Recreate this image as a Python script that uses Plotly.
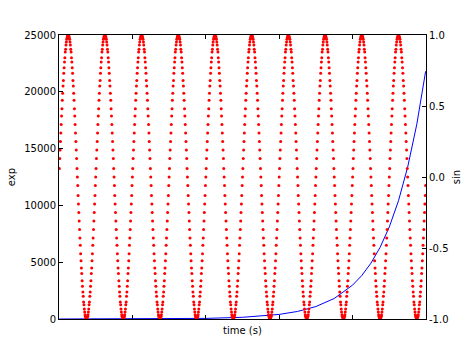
import plotly.graph_objects as go

# ---- data ----
time_start = 0.01
time_step = 0.01

exp_time = [0.01, 1, 2, 3, 4, 5, 5.5, 6, 6.5, 7, 7.5, 8, 8.25, 8.5, 8.75, 9, 9.25, 9.5, 9.75, 9.99]
exp_values = [1.01, 2.72, 7.39, 20.09, 54.6, 148.4, 244.7, 403.4, 665.1, 1096.6, 1808.0, 2981.0,
              3827.6, 4914.8, 6310.7, 8103.1, 10404.6, 13359.7, 17154.2, 21807.2]

sin_values = [
.06,.13,.19,.25,.31,.37,.43,.48,.54,.59,.64,.68,.73,.77,.81,.84,.88,.90,.93,.95,.97,.98,.99,1,1,1,.99,.98,.97,.95,.93,.90,.88,.84,.81,.77,.73,.68,.64,.59,.54,.48,.43,.37,.31,.25,.19,.13,.06,0,-.06,-.13,-.19,-.25,-.31,-.37,-.43,-.48,-.54,-.59,-.64,-.68,-.73,-.77,-.81,-.84,-.88,-.90,-.93,-.95,-.97,-.98,-.99,-1,-1,-1,-.99,-.98,-.97,-.95,-.93,-.90,-.88,-.84,-.81,-.77,-.73,-.68,-.64,-.59,-.54,-.48,-.43,-.37,-.31,-.25,-.19,-.13,-.06,
0,.06,.13,.19,.25,.31,.37,.43,.48,.54,.59,.64,.68,.73,.77,.81,.84,.88,.90,.93,.95,.97,.98,.99,1,1,1,.99,.98,.97,.95,.93,.90,.88,.84,.81,.77,.73,.68,.64,.59,.54,.48,.43,.37,.31,.25,.19,.13,.06,0,-.06,-.13,-.19,-.25,-.31,-.37,-.43,-.48,-.54,-.59,-.64,-.68,-.73,-.77,-.81,-.84,-.88,-.90,-.93,-.95,-.97,-.98,-.99,-1,-1,-1,-.99,-.98,-.97,-.95,-.93,-.90,-.88,-.84,-.81,-.77,-.73,-.68,-.64,-.59,-.54,-.48,-.43,-.37,-.31,-.25,-.19,-.13,-.06,
0,.06,.13,.19,.25,.31,.37,.43,.48,.54,.59,.64,.68,.73,.77,.81,.84,.88,.90,.93,.95,.97,.98,.99,1,1,1,.99,.98,.97,.95,.93,.90,.88,.84,.81,.77,.73,.68,.64,.59,.54,.48,.43,.37,.31,.25,.19,.13,.06,0,-.06,-.13,-.19,-.25,-.31,-.37,-.43,-.48,-.54,-.59,-.64,-.68,-.73,-.77,-.81,-.84,-.88,-.90,-.93,-.95,-.97,-.98,-.99,-1,-1,-1,-.99,-.98,-.97,-.95,-.93,-.90,-.88,-.84,-.81,-.77,-.73,-.68,-.64,-.59,-.54,-.48,-.43,-.37,-.31,-.25,-.19,-.13,-.06,
0,.06,.13,.19,.25,.31,.37,.43,.48,.54,.59,.64,.68,.73,.77,.81,.84,.88,.90,.93,.95,.97,.98,.99,1,1,1,.99,.98,.97,.95,.93,.90,.88,.84,.81,.77,.73,.68,.64,.59,.54,.48,.43,.37,.31,.25,.19,.13,.06,0,-.06,-.13,-.19,-.25,-.31,-.37,-.43,-.48,-.54,-.59,-.64,-.68,-.73,-.77,-.81,-.84,-.88,-.90,-.93,-.95,-.97,-.98,-.99,-1,-1,-1,-.99,-.98,-.97,-.95,-.93,-.90,-.88,-.84,-.81,-.77,-.73,-.68,-.64,-.59,-.54,-.48,-.43,-.37,-.31,-.25,-.19,-.13,-.06,
0,.06,.13,.19,.25,.31,.37,.43,.48,.54,.59,.64,.68,.73,.77,.81,.84,.88,.90,.93,.95,.97,.98,.99,1,1,1,.99,.98,.97,.95,.93,.90,.88,.84,.81,.77,.73,.68,.64,.59,.54,.48,.43,.37,.31,.25,.19,.13,.06,0,-.06,-.13,-.19,-.25,-.31,-.37,-.43,-.48,-.54,-.59,-.64,-.68,-.73,-.77,-.81,-.84,-.88,-.90,-.93,-.95,-.97,-.98,-.99,-1,-1,-1,-.99,-.98,-.97,-.95,-.93,-.90,-.88,-.84,-.81,-.77,-.73,-.68,-.64,-.59,-.54,-.48,-.43,-.37,-.31,-.25,-.19,-.13,-.06,
0,.06,.13,.19,.25,.31,.37,.43,.48,.54,.59,.64,.68,.73,.77,.81,.84,.88,.90,.93,.95,.97,.98,.99,1,1,1,.99,.98,.97,.95,.93,.90,.88,.84,.81,.77,.73,.68,.64,.59,.54,.48,.43,.37,.31,.25,.19,.13,.06,0,-.06,-.13,-.19,-.25,-.31,-.37,-.43,-.48,-.54,-.59,-.64,-.68,-.73,-.77,-.81,-.84,-.88,-.90,-.93,-.95,-.97,-.98,-.99,-1,-1,-1,-.99,-.98,-.97,-.95,-.93,-.90,-.88,-.84,-.81,-.77,-.73,-.68,-.64,-.59,-.54,-.48,-.43,-.37,-.31,-.25,-.19,-.13,-.06,
0,.06,.13,.19,.25,.31,.37,.43,.48,.54,.59,.64,.68,.73,.77,.81,.84,.88,.90,.93,.95,.97,.98,.99,1,1,1,.99,.98,.97,.95,.93,.90,.88,.84,.81,.77,.73,.68,.64,.59,.54,.48,.43,.37,.31,.25,.19,.13,.06,0,-.06,-.13,-.19,-.25,-.31,-.37,-.43,-.48,-.54,-.59,-.64,-.68,-.73,-.77,-.81,-.84,-.88,-.90,-.93,-.95,-.97,-.98,-.99,-1,-1,-1,-.99,-.98,-.97,-.95,-.93,-.90,-.88,-.84,-.81,-.77,-.73,-.68,-.64,-.59,-.54,-.48,-.43,-.37,-.31,-.25,-.19,-.13,-.06,
0,.06,.13,.19,.25,.31,.37,.43,.48,.54,.59,.64,.68,.73,.77,.81,.84,.88,.90,.93,.95,.97,.98,.99,1,1,1,.99,.98,.97,.95,.93,.90,.88,.84,.81,.77,.73,.68,.64,.59,.54,.48,.43,.37,.31,.25,.19,.13,.06,0,-.06,-.13,-.19,-.25,-.31,-.37,-.43,-.48,-.54,-.59,-.64,-.68,-.73,-.77,-.81,-.84,-.88,-.90,-.93,-.95,-.97,-.98,-.99,-1,-1,-1,-.99,-.98,-.97,-.95,-.93,-.90,-.88,-.84,-.81,-.77,-.73,-.68,-.64,-.59,-.54,-.48,-.43,-.37,-.31,-.25,-.19,-.13,-.06,
0,.06,.13,.19,.25,.31,.37,.43,.48,.54,.59,.64,.68,.73,.77,.81,.84,.88,.90,.93,.95,.97,.98,.99,1,1,1,.99,.98,.97,.95,.93,.90,.88,.84,.81,.77,.73,.68,.64,.59,.54,.48,.43,.37,.31,.25,.19,.13,.06,0,-.06,-.13,-.19,-.25,-.31,-.37,-.43,-.48,-.54,-.59,-.64,-.68,-.73,-.77,-.81,-.84,-.88,-.90,-.93,-.95,-.97,-.98,-.99,-1,-1,-1,-.99,-.98,-.97,-.95,-.93,-.90,-.88,-.84,-.81,-.77,-.73,-.68,-.64,-.59,-.54,-.48,-.43,-.37,-.31,-.25,-.19,-.13,-.06,
0,.06,.13,.19,.25,.31,.37,.43,.48,.54,.59,.64,.68,.73,.77,.81,.84,.88,.90,.93,.95,.97,.98,.99,1,1,1,.99,.98,.97,.95,.93,.90,.88,.84,.81,.77,.73,.68,.64,.59,.54,.48,.43,.37,.31,.25,.19,.13,.06,0,-.06,-.13,-.19,-.25,-.31,-.37,-.43,-.48,-.54,-.59,-.64,-.68,-.73,-.77,-.81,-.84,-.88,-.90,-.93,-.95,-.97,-.98,-.99,-1,-1,-1,-.99,-.98,-.97,-.95,-.93,-.90,-.88,-.84,-.81,-.77,-.73,-.68,-.64,-.59,-.54,-.48,-.43,-.37,-.31,-.25,-.19,-.13,-.06,
]

x_ticks = [0, 2, 4, 6, 8, 10]
left_ticks = [0, 5000, 10000, 15000, 20000, 25000]
left_tick_labels = ["0", "5000", "10000", "15000", "20000", "25000"]
right_ticks = [-1.0, -0.5, 0.0, 0.5, 1.0]
right_tick_labels = ["-1.0", "-0.5", "0.0", "0.5", "1.0"]

font = dict(family="DejaVu Sans", size=10, color="black")

fig = go.Figure()
fig.add_trace(go.Scatter(x=exp_time, y=exp_values, mode="lines",
                         line=dict(color="#0000ff", width=1), yaxis="y", hoverinfo="skip"))
fig.add_trace(go.Scatter(x0=time_start, dx=time_step, y=sin_values, mode="markers",
                         marker=dict(color="#ff0000", size=3, line=dict(width=0)),
                         yaxis="y2", hoverinfo="skip"))

fig.update_layout(
    width=474, height=355,
    margin=dict(l=59, r=48, t=35, b=36),
    paper_bgcolor="white", plot_bgcolor="white",
    showlegend=False, font=font,
    xaxis=dict(range=[0, 10], tickvals=x_ticks, showticklabels=False,
               ticks="inside", ticklen=4, tickcolor="black",
               showline=True, linecolor="black", linewidth=1, mirror="ticks",
               showgrid=False, zeroline=False, automargin=False,
               title=dict(text="time (s)", font=font, standoff=7)),
    yaxis=dict(range=[0, 25000], tickvals=left_ticks, ticktext=left_tick_labels,
               ticks="inside", ticklen=4, automargin=False,
               tickcolor="black", showline=True, linecolor="black", linewidth=1,
               showgrid=False, zeroline=False, tickfont=font,
               title=dict(text="exp", font=font, standoff=6)),
    yaxis2=dict(range=[-1, 1], tickvals=right_ticks, ticktext=right_tick_labels,
                overlaying="y", side="right", ticks="inside", ticklen=4,
                tickcolor="black", showline=True, linecolor="black", linewidth=1,
                showgrid=False, zeroline=False, tickfont=font, automargin=False,
                title=dict(text="sin", font=font, standoff=5)),
)

fig.write_html("out.html")
